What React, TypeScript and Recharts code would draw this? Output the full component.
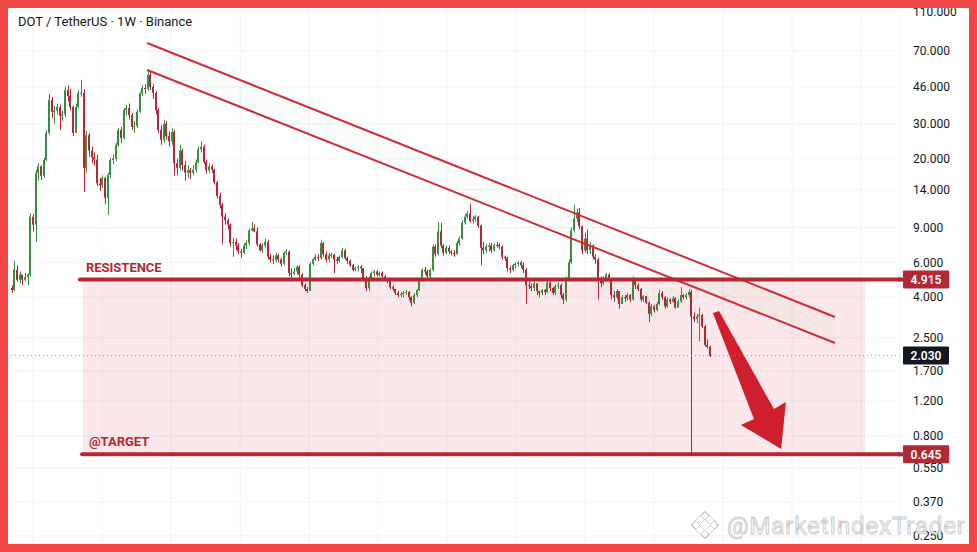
import React from "react"
import {
  ComposedChart,
  Bar,
  XAxis,
  YAxis,
  CartesianGrid,
  ReferenceLine,
  ReferenceArea,
  ReferenceDot,
} from "recharts"

// weekly DOT/USDT candles, open = previous close
const FIRST_OPEN = 4.45
const closes = [
  4.35, 5.5, 4.9, 5.2, 4.9, 5.05, 5.2, 10.2, 9.3, 17.0, 18.3, 16.4, 19.7, 27, 39.6, 34.5, 35, 36.5, 33, 33.5,
  44.4, 41.4, 36.5, 27, 36.5, 42.8, 43, 18, 26.3, 22, 20.3, 19.8, 15, 14.7, 16, 12.7, 16.6, 19.7, 20, 23.5,
  27.9, 25.4, 35.2, 36, 33.2, 29, 29.3, 34.5, 42.8, 45.5, 45, 52.9, 46, 43, 35.2, 28, 24.9, 30, 26, 24.5,
  27.3, 19, 18, 22, 18.6, 17, 17.5, 17, 17.6, 19.2, 22.3, 23, 19.3, 17.5, 18.3, 17.6, 15.2, 13, 11.7, 10.2,
  9.8, 9.3, 7.5, 7.6, 7.3, 6.8, 6.7, 7.3, 7.5, 8.7, 8.9, 8.6, 7.4, 6.9, 7.3, 7.6, 6.4, 6.2, 6.15, 6.5,
  6.2, 5.9, 6.7, 6.8, 5.3, 5.25, 5.4, 5.7, 5.2, 4.6, 4.4, 4.3, 5.9, 6.2, 6.4, 6.3, 7.5, 6.6, 6.2, 6.5,
  6.55, 6.2, 6.1, 6.4, 6.9, 6.3, 6.1, 5.8, 5.5, 5.6, 5.7, 5.6, 5.0, 4.45, 5.0, 5.3, 5.4, 5.2, 5.3, 5.1,
  4.95, 4.85, 4.5, 4.4, 4.2, 4.1, 4.15, 4.2, 4.25, 4.0, 3.75, 4.1, 4.35, 4.9, 5.5, 5.4, 5.1, 5.5, 7.2, 6.6,
  8.6, 7.3, 6.7, 7.1, 6.8, 6.7, 6.6, 7.5, 7.9, 9.5, 10.2, 10.6, 9.7, 9.9, 10.2, 9.2, 7.1, 6.9, 7.2, 7.3,
  6.9, 7.3, 7.35, 7.2, 6.4, 6.3, 5.6, 5.5, 5.8, 5.9, 6.0, 5.8, 5.5, 4.6, 4.55, 4.45, 4.7, 4.3, 4.2, 4.35,
  4.25, 4.75, 4.45, 4.2, 4.55, 4.6, 4.1, 3.9, 4.95, 6.0, 8.7, 10.0, 10.7, 9.1, 6.9, 7.9, 6.9, 7.3, 6.4, 6.2,
  4.9, 4.7, 4.95, 5.2, 4.95, 4.1, 4.0, 4.3, 3.7, 4.0, 3.95, 4.1, 3.9, 4.9, 4.6, 4.4, 3.9, 4.05, 3.75, 3.3,
  3.6, 3.45, 3.7, 4.2, 4.0, 3.6, 3.9, 3.8, 3.95, 3.55, 3.8, 4.1, 4.0, 4.1, 4.25, 3.2, 3.1, 3.2, 3.25, 2.85,
  2.3, 2.25, 2.03,
]
const highs = [
  4.6, 6.1, 5.8, 5.4, 5.2, 5.3, 5.3, 10.6, 10.5, 17.6, 19, 18.5, 20.2, 27.8, 42.5, 41, 37, 38, 37.5, 35,
  46, 47, 45, 37, 38, 44.5, 50, 45, 27.5, 27, 23, 21.5, 21, 16, 16.5, 16.2, 17, 20.2, 21, 24,
  28.5, 29, 36, 37.5, 38, 34, 31, 35.5, 43.5, 47, 47.5, 56.5, 55, 47.5, 44, 36, 29.5, 31.5, 31, 27.5,
  28.5, 28, 20, 23.5, 22.5, 19.5, 18.5, 18, 18.6, 19.8, 23, 24.5, 23.5, 19.8, 19, 18.8, 17.8, 15.5, 13.5, 12,
  10.6, 10, 9.4, 8, 7.9, 7.5, 7.0, 7.5, 7.7, 8.9, 9.6, 9.3, 9.0, 7.5, 7.5, 7.9, 7.8, 6.6, 6.5, 6.7,
  6.6, 6.3, 6.8, 7.0, 6.9, 5.6, 5.6, 5.8, 5.8, 5.3, 4.7, 4.5, 6.0, 6.3, 6.6, 6.6, 7.8, 7.6, 6.8, 6.7,
  6.7, 6.6, 6.4, 6.5, 7.1, 7.0, 6.4, 6.2, 5.9, 5.7, 5.8, 5.8, 5.6, 5.1, 5.1, 5.4, 5.5, 5.5, 5.4, 5.4,
  5.2, 5.0, 4.9, 4.6, 4.4, 4.3, 4.25, 4.3, 4.35, 4.3, 4.05, 4.2, 4.4, 5.0, 5.6, 5.7, 5.5, 5.6, 7.4, 7.4,
  9.6, 9.5, 7.4, 7.3, 7.3, 6.9, 6.9, 7.7, 8.1, 9.8, 10.5, 10.9, 11.9, 10.3, 10.4, 10.3, 9.3, 7.6, 7.4, 7.5,
  7.5, 7.5, 7.6, 7.5, 7.3, 6.5, 6.4, 5.8, 5.9, 6.0, 6.1, 6.1, 6.0, 5.6, 4.8, 4.7, 4.8, 4.7, 4.3, 4.4,
  4.4, 4.85, 4.8, 4.5, 4.65, 4.75, 4.7, 4.2, 5.1, 6.2, 9.0, 11.7, 11.2, 11.3, 9.2, 8.5, 8.8, 7.6, 7.4, 6.6,
  6.3, 5.1, 5.1, 5.3, 5.3, 5.0, 4.3, 4.4, 4.3, 4.1, 4.1, 4.2, 4.15, 5.1, 4.95, 4.7, 4.45, 4.1, 4.05, 3.8,
  3.7, 3.65, 3.8, 4.35, 4.3, 4.05, 4.0, 3.95, 4.05, 4.0, 3.9, 4.5, 4.15, 4.2, 4.4, 4.35, 3.35, 3.3, 3.55, 3.3,
  2.9, 2.45, 2.28,
]
const lows = [
  4.2, 4.3, 4.8, 4.7, 4.6, 4.8, 4.6, 5.1, 8.6, 7.6, 15.5, 15.6, 16, 19.5, 26.5, 32, 30, 33.5, 27.9, 31,
  32.5, 39, 35, 26, 27.5, 36, 41, 13.6, 17, 20.5, 19, 18.5, 14.5, 13.8, 14.3, 11.8, 10.4, 16, 18.8, 19.5,
  23, 24, 25, 33, 31.5, 28, 27, 28.5, 34, 41.5, 42.5, 44, 44.5, 40, 33.5, 27, 23.5, 24, 25, 23,
  23.5, 16.5, 16.5, 17.5, 17.5, 15.5, 16, 15.8, 16.5, 17, 19, 21.5, 18.8, 16.8, 17, 17, 14.8, 12.6, 11.2, 7.4,
  9.3, 8.8, 7.2, 6.4, 6.9, 6.6, 6.3, 6.6, 7.0, 7.3, 8.6, 8.5, 7.2, 6.8, 6.7, 7.1, 6.2, 6.0, 5.9, 6.0,
  6.0, 5.7, 5.8, 6.5, 5.1, 5.0, 5.2, 5.2, 5.0, 4.5, 4.3, 4.2, 4.3, 5.8, 6.1, 6.1, 6.2, 6.4, 6.0, 6.0,
  6.3, 5.3, 5.9, 6.0, 6.3, 6.2, 5.9, 5.7, 5.4, 5.4, 5.4, 5.3, 4.8, 4.3, 4.3, 4.9, 5.1, 5.1, 5.1, 5.0,
  4.9, 4.7, 4.4, 4.3, 4.1, 4.0, 4.0, 4.0, 4.1, 3.85, 3.6, 3.7, 4.0, 4.3, 4.8, 5.2, 5.0, 5.0, 5.4, 6.4,
  6.5, 7.1, 6.5, 6.6, 6.6, 6.5, 6.4, 6.6, 7.3, 7.8, 9.3, 10.0, 9.5, 9.4, 9.6, 8.9, 5.8, 6.6, 6.7, 6.8,
  6.7, 6.8, 7.1, 7.0, 6.2, 6.1, 5.4, 5.3, 5.4, 5.6, 5.7, 5.6, 5.3, 3.7, 4.4, 4.3, 4.3, 4.1, 4.0, 4.1,
  4.1, 4.2, 4.3, 4.1, 4.1, 4.4, 3.95, 3.7, 3.8, 4.8, 5.9, 8.5, 9.6, 8.8, 6.6, 6.7, 6.6, 6.6, 6.2, 5.9,
  3.9, 4.5, 4.6, 4.8, 4.8, 3.9, 3.8, 3.9, 3.5, 3.7, 3.8, 3.85, 3.8, 3.85, 4.4, 4.3, 3.8, 3.8, 3.7, 3.0,
  3.2, 3.35, 3.4, 3.65, 3.9, 3.5, 3.55, 3.7, 3.75, 3.5, 3.55, 3.75, 3.9, 3.9, 4.0, 0.645, 3.0, 2.95, 2.4, 2.8,
  2.25, 2.2, 2.0,
]

const PRICE_TICKS = [110, 70, 46, 30, 20, 14, 9, 6, 4, 2.5, 1.7, 1.2, 0.8, 0.55, 0.37, 0.25]
const GRID_WEEKS = [7.9, 33.8, 59.7, 85.6, 111.4, 137.3, 163.2, 189.1, 215.0, 240.9, 266.8, 292.7, 318.6]

const X_MIN = -0.75
const X_MAX = 333.2
const Y_MIN = 0.2274
const Y_MAX = 112.6

const RESISTANCE = 4.915
const TARGET = 0.645
const LAST = 2.03
const RES_START = 25.5
const TGT_START = 26.3
const ZONE = [26.6, 320.1]

// drawing tools, as [week, price]
const CHANNEL_UPPER = [[50.7, 76.7], [308.8, 3.18]]
const CHANNEL_LOWER = [[50.7, 56.1], [308.8, 2.35]]
const ARROW = [
  [263.0, 3.33], [265.3, 3.41], [285.9, 1.091], [290.4, 1.183],
  [288.6, 0.686], [273.5, 0.906], [278.4, 0.972],
]

const GREEN = "#388e3c"
const RED = "#b22833"
const LINE_RED = "#d22b38"
const FONT = "Roboto, sans-serif"

const candles = closes.map((c, i) => ({
  i,
  o: i === 0 ? FIRST_OPEN : closes[i - 1],
  h: highs[i],
  l: lows[i],
  c,
}))

function Candle(props: any) {
  const { x, y, width, height, payload } = props
  if (x == null || y == null || !payload) return null
  const { o, h, l, c } = payload
  const top = Math.min(y, y + height)
  const span = Math.abs(height)
  const lh = Math.log(h)
  const ll = Math.log(l)
  const py = (v: number) => (lh === ll ? top : top + ((lh - Math.log(v)) / (lh - ll)) * span)
  const cx = Math.round(x + width / 2)
  const color = c >= o ? GREEN : RED
  const bTop = py(Math.max(o, c))
  const bBot = py(Math.min(o, c))
  return (
    <g>
      <rect x={cx} y={top} width={1} height={Math.max(1, span)} fill={color} />
      <rect x={cx - 1} y={bTop} width={2} height={Math.max(1, bBot - bTop)} fill={color} />
    </g>
  )
}

// ReferenceArea box spans the points' extent; map week linearly and price on log
function polygonShape(pts: number[][], fill: string, opacity: number) {
  const ws = pts.map((q) => q[0])
  const ps = pts.map((q) => q[1])
  const w0 = Math.min(...ws)
  const w1 = Math.max(...ws)
  const hi = Math.log(Math.max(...ps))
  const lo = Math.log(Math.min(...ps))
  return (p: any) => {
    const toX = (w: number) => p.x + ((w - w0) / (w1 - w0)) * p.width
    const toY = (v: number) => p.y + ((hi - Math.log(v)) / (hi - lo)) * p.height
    return (
      <polygon
        points={pts.map((q) => `${toX(q[0])},${toY(q[1])}`).join(" ")}
        fill={fill}
        fillOpacity={opacity}
      />
    )
  }
}

const channelPoly = [CHANNEL_UPPER[0], CHANNEL_UPPER[1], CHANNEL_LOWER[1], CHANNEL_LOWER[0]]

function extent(pts: number[][]) {
  const ws = pts.map((q) => q[0])
  const ps = pts.map((q) => q[1])
  return { x1: Math.min(...ws), x2: Math.max(...ws), y1: Math.min(...ps), y2: Math.max(...ps) }
}

const zoneShape = (p: any) => (
  <g>
    <rect x={p.x} y={p.y} width={p.width} height={p.height} fill="#d53f50" fillOpacity={0.12} />
    <text x={p.x + 3} y={p.y - 8} fill={RED} fontSize={13} fontWeight={700} fontFamily={FONT}>
      RESISTENCE
    </text>
    <text x={p.x + 6} y={p.y + p.height - 8} fill={RED} fontSize={13} fontWeight={700} fontFamily={FONT}>
      @TARGET
    </text>
  </g>
)

const priceTag = (value: number, fill: string, stub: boolean) => (p: any) => (
  <g>
    {stub && <line x1={p.cx - 2} x2={p.cx + 4} y1={p.cy} y2={p.cy} stroke={fill} strokeWidth={4} />}
    <rect x={p.cx + 3} y={p.cy - 9} width={46} height={18} rx={1} fill={fill} />
    <text
      x={p.cx + 26}
      y={p.cy + 4.5}
      textAnchor="middle"
      fill="#fff"
      fontSize={12}
      fontWeight={600}
      fontFamily={FONT}
    >
      {value.toFixed(3)}
    </text>
  </g>
)

export default function App() {
  const ch = extent(channelPoly)
  const ar = extent(ARROW)
  return (
    <div
      style={{
        position: "fixed",
        left: 0,
        top: 0,
        width: 977,
        height: 552,
        boxSizing: "border-box",
        border: "8px solid #ef4646",
        background: "#fff",
        overflow: "hidden",
      }}
    >
      <div style={{ position: "absolute", left: 0, top: 0 }}>
        <ComposedChart
          width={961}
          height={536}
          data={candles}
          margin={{ top: 2, right: 0, bottom: 0, left: 2 }}
        >
          <CartesianGrid stroke="#f1f3f7" />
          <XAxis
            type="number"
            dataKey="i"
            domain={[X_MIN, X_MAX]}
            allowDataOverflow
            ticks={GRID_WEEKS}
            hide
          />
          <YAxis
            orientation="right"
            scale="log"
            type="number"
            domain={[Y_MIN, Y_MAX]}
            allowDataOverflow
            ticks={PRICE_TICKS}
            interval={0}
            width={69}
            axisLine={false}
            tickLine={false}
            tickSize={0}
            tickMargin={13}
            tick={{ fill: "#131722", fontSize: 12, fontFamily: FONT }}
            tickFormatter={(v: number) => v.toFixed(3)}
          />
          <ReferenceArea
            x1={ZONE[0]}
            x2={ZONE[1]}
            y1={TARGET}
            y2={RESISTANCE}
            ifOverflow="visible"
            shape={zoneShape}
          />
          <ReferenceArea {...ch} ifOverflow="visible" shape={polygonShape(channelPoly, "#6fbf5f", 0.045)} />
          <ReferenceLine y={LAST} stroke="#8a8e99" strokeDasharray="1 3" ifOverflow="visible" />
          <Bar
            dataKey={(d: any) => [d.l, d.h]}
            barSize={2}
            shape={Candle}
            isAnimationActive={false}
          />
          <ReferenceLine
            segment={[
              { x: CHANNEL_UPPER[0][0], y: CHANNEL_UPPER[0][1] },
              { x: CHANNEL_UPPER[1][0], y: CHANNEL_UPPER[1][1] },
            ]}
            stroke={LINE_RED}
            strokeWidth={2}
            ifOverflow="visible"
          />
          <ReferenceLine
            segment={[
              { x: CHANNEL_LOWER[0][0], y: CHANNEL_LOWER[0][1] },
              { x: CHANNEL_LOWER[1][0], y: CHANNEL_LOWER[1][1] },
            ]}
            stroke={LINE_RED}
            strokeWidth={2}
            ifOverflow="visible"
          />
          <ReferenceLine
            segment={[
              { x: RES_START, y: RESISTANCE },
              { x: X_MAX, y: RESISTANCE },
            ]}
            stroke={RED}
            strokeWidth={4}
            strokeLinecap="round"
            ifOverflow="visible"
          />
          <ReferenceLine
            segment={[
              { x: TGT_START, y: TARGET },
              { x: X_MAX, y: TARGET },
            ]}
            stroke={RED}
            strokeWidth={4}
            strokeLinecap="round"
            ifOverflow="visible"
          />
          <ReferenceArea {...ar} ifOverflow="visible" shape={polygonShape(ARROW, "#cf1f2d", 1)} />
          <ReferenceDot x={X_MAX} y={RESISTANCE} ifOverflow="visible" shape={priceTag(RESISTANCE, RED, true)} />
          <ReferenceDot x={X_MAX} y={TARGET} ifOverflow="visible" shape={priceTag(TARGET, RED, true)} />
          <ReferenceDot x={X_MAX} y={LAST} ifOverflow="visible" shape={priceTag(LAST, "#131722", false)} />
        </ComposedChart>
      </div>
      <svg
        width={977}
        height={552}
        style={{ position: "absolute", left: -8, top: -8, pointerEvents: "none" }}
      >
        <text x={18} y={26} fill="#131722" fontSize={13} fontFamily={FONT}>
          DOT / TetherUS · 1W · Binance
        </text>
        <g fill="#fff" stroke="#cdcdcd" strokeWidth={1}>
          <path d="M705 511 L719 525 L705 539 L691 525 Z" fillOpacity={0.6} />
          <path d="M705 519 L711 525 L705 531 L699 525 Z" />
          <path d="M705 512 L709 516 L705 520 L701 516 Z" />
          <path d="M705 530 L709 534 L705 538 L701 534 Z" />
          <path d="M696 521 L700 525 L696 529 L692 525 Z" />
          <path d="M714 521 L718 525 L714 529 L710 525 Z" />
          <text
            x={727}
            y={534}
            fontSize={24}
            fontFamily={FONT}
            textLength={238}
            lengthAdjust="spacing"
            fillOpacity={0.85}
          >
            @MarketIndexTrader
          </text>
        </g>
      </svg>
    </div>
  )
}
